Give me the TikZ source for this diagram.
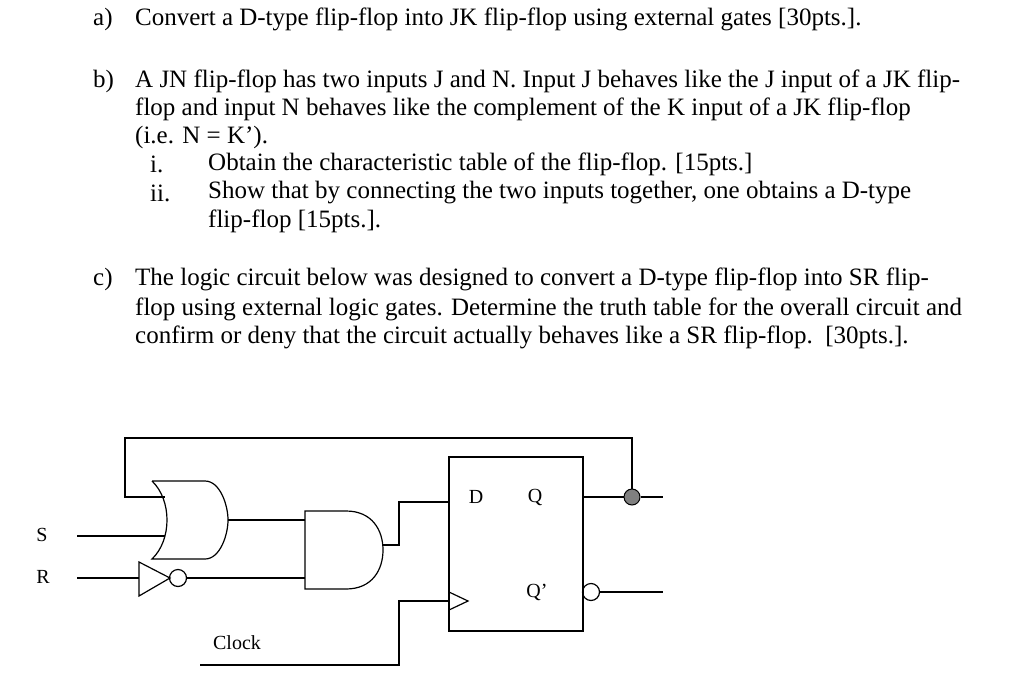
\documentclass[tikz,border=0pt]{standalone}
\usepackage{fontspec}
\setmainfont{Liberation Serif}
\tikzset{
  wire/.style={line width=1.2pt},
  txt/.style={anchor=west, inner sep=0pt, font=\fontsize{25}{28}\selectfont},
  lbl/.style={inner sep=0pt, font=\fontsize{20}{22}\selectfont},
  bubble/.style={circle, draw, line width=1.2pt, minimum size=17pt, inner sep=0pt},
}
\begin{document}
\begin{tikzpicture}[x=1pt, y=-1pt]
	\useasboundingbox (0, 0) rectangle (1024, 696);
	% question text
	\node[txt] (qa) at (93, 19) {a)};
	\node[txt] (ta) at (135, 19) {Convert a D-type flip-flop into JK flip-flop using external gates [30pts.].};
	\node[txt] (qb) at (93, 81) {b)};
	\node[txt] (tb1) at (135, 81) {A JN flip-flop has two inputs J and N. Input J behaves like the J input of a JK flip-};
	\node[txt] (tb2) at (135, 109) {flop and input N behaves like the complement of the K input of a JK flip-flop};
	\node[txt] (tb3) at (135, 137) {(i.e. N = K').};
	\node[txt] (qi) at (150, 164) {i.};
	\node[txt] (ti) at (208, 164) {Obtain the characteristic table of the flip-flop. [15pts.]};
	\node[txt] (qii) at (150, 193) {ii.};
	\node[txt] (tii1) at (208, 193) {Show that by connecting the two inputs together, one obtains a D-type};
	\node[txt] (tii2) at (208, 221) {flip-flop [15pts.].};
	\node[txt] (qc) at (93, 279) {c)};
	\node[txt] (tc1) at (135, 279) {The logic circuit below was designed to convert a D-type flip-flop into SR flip-};
	\node[txt] (tc2) at (135, 309) {flop using external logic gates. Determine the truth table for the overall circuit and};
	\node[txt] (tc3) at (135, 337) {confirm or deny that the circuit actually behaves like a SR flip-flop.\ \ [30pts.].};
	% labels
	\node[lbl] (s) at (42, 535) {S};
	\node[lbl] (r) at (43, 577) {R};
	\node[lbl] (clk) at (237, 643) {Clock};
	\node[lbl] (d) at (476, 497) {D};
	\node[lbl] (q) at (535, 497) {Q};
	\node[lbl] (qn) at (537, 592) {Q'};
	% OR gate
	\draw[wire] (152, 481) -- (205, 481) .. controls (220, 481) and (228, 505) .. (228, 520)
		.. controls (228, 535) and (220, 559) .. (205, 559) -- (152, 559)
		.. controls (172, 540) and (172, 500) .. (152, 481);
	\coordinate (orout) at (228, 520);
	% AND gate
	\draw[wire] (305, 511) -- (346, 511) .. controls (372, 511) and (383, 530) .. (383, 550)
		.. controls (383, 570) and (372, 589) .. (346, 589) -- (305, 589) -- cycle;
	\coordinate (andout) at (383, 545);
	% inverter
	\draw[wire] (139, 562) -- (170, 578) -- (139, 596) -- cycle;
	\node[bubble] (inv) at (178, 578) {};
	% flip-flop
	\draw[wire] (449, 457) rectangle (583, 631);
	\draw[wire] (449, 592) -- (468, 601) -- (449, 610);
	\node[bubble] (qbar) at (591, 592) {};
	\node[circle, draw, fill=gray, line width=1pt, minimum size=16pt, inner sep=0pt] (dot) at (632, 497) {};
	% wires
	\draw[wire] (77, 536) -- (165, 536);
	\draw[wire] (77, 578) -- (139, 578);
	\draw[wire] (inv.east) -- (305, 578);
	\draw[wire] (orout) -- (305, 520);
	\draw[wire] (andout) -- (399, 545) -- (399, 502) -- (449, 502);
	\draw[wire] (200, 665) -- (399, 665) -- (399, 601) -- (449, 601);
	\draw[wire] (583, 497) -- (dot.west);
	\draw[wire] (dot.east) -- (663, 497);
	\draw[wire] (dot.north) -- (632, 438) -- (125, 438) -- (125, 497) -- (165, 497);
	\draw[wire] (qbar.east) -- (663, 592);
\end{tikzpicture}
\end{document}
